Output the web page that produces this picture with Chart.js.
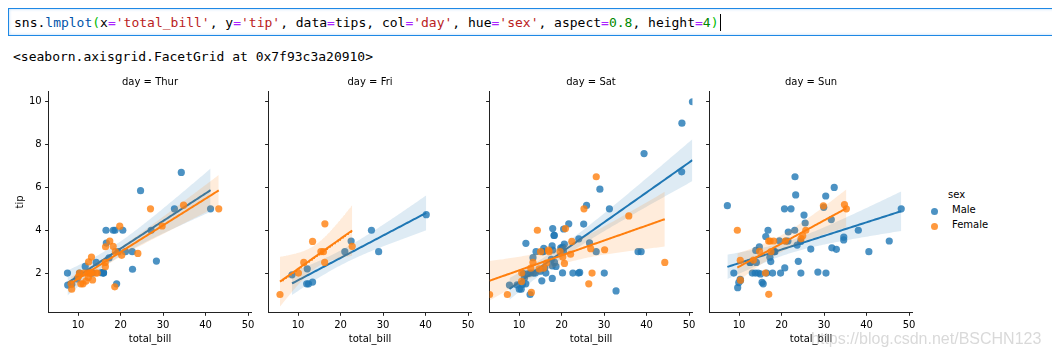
<!DOCTYPE html>
<html><head><meta charset="utf-8">
<script src="https://cdn.jsdelivr.net/npm/chart.js@4.4.0/dist/chart.umd.min.js"></script>
<style>
html,body{margin:0;padding:0;background:#fff;width:1052px;height:357px;overflow:hidden;position:relative;}
.cell{position:absolute;left:8px;top:8px;width:1060px;height:28px;border:1px solid #1e88e5;box-shadow:inset 0 0 3px rgba(30,136,229,.35);box-sizing:border-box;}
.code,.out{position:absolute;font:13px 'DejaVu Sans Mono',monospace;line-height:18px;white-space:pre;color:#000;}
.code{left:14px;top:14px;}
.out{left:13px;top:48px;}
.pr{color:#0055aa}.op{color:#aa22ff}.st{color:#ba2121}.nu{color:#008800}.br{color:#00bb00}
.cur{display:inline-block;width:0;height:17px;border-left:1px solid #000;vertical-align:-4px;margin-left:1px;}
canvas{position:absolute;top:70px;}
.lg{position:absolute;font:10px 'DejaVu Sans',sans-serif;line-height:12px;color:#000;white-space:pre;}
.mk{position:absolute;width:7px;height:7px;border-radius:50%;}
.wm{position:absolute;left:811px;top:331px;font:16px 'Liberation Sans',Arial,sans-serif;line-height:16px;color:rgba(170,170,170,0.45);white-space:pre;z-index:5;}
</style></head>
<body>
<div class="cell"></div>
<div class="code">sns.<span class="pr">lmplot</span><span class="br">(</span>x<span class="op">=</span><span class="st">'total_bill'</span>, y<span class="op">=</span><span class="st">'tip'</span>, data<span class="op">=</span>tips, col<span class="op">=</span><span class="st">'day'</span>, hue<span class="op">=</span><span class="st">'sex'</span>, aspect<span class="op">=</span><span class="nu">0.8</span>, height<span class="op">=</span><span class="nu">4</span><span class="br">)</span><span class="cur"></span></div>
<div class="out">&lt;seaborn.axisgrid.FacetGrid at 0x7f93c3a20910&gt;</div>
<canvas id="c0" width="262" height="287" style="left:0px"></canvas>
<canvas id="c1" width="262" height="287" style="left:220.43px"></canvas>
<canvas id="c2" width="262" height="287" style="left:440.86px"></canvas>
<canvas id="c3" width="262" height="287" style="left:661.29px"></canvas>
<div class="lg" style="left:948px;top:189px">sex</div>
<div class="mk" style="left:930.8px;top:207.8px;background:rgba(31,119,180,0.8)"></div>
<div class="lg" style="left:952px;top:204.3px">Male</div>
<div class="mk" style="left:930.8px;top:222.5px;background:rgba(255,127,14,0.8)"></div>
<div class="lg" style="left:952px;top:219px">Female</div>
<div class="wm">https://blog.csdn.net/BSCHN123</div>
<script>
// ---- data (tips dataset, by day and sex) ----
const days = ['Thur', 'Fri', 'Sat', 'Sun'];
const hues = ['Male', 'Female'];
const xTicks = [10, 20, 30, 40, 50];
const yTicks = [2, 4, 6, 8, 10];

const thurMaleBill = [27.2,22.76,17.29,19.44,16.66,32.68,15.98,13.03,18.28,24.71,21.16,11.69,14.26,15.95,8.52,22.82,19.08,16.0,34.3,41.19,9.78,7.51,28.44,15.48,16.58,7.56,10.34,13.51,18.71,20.53];
const thurMaleTip  = [4.0,3.0,2.71,3.0,3.4,5.0,2.03,2.0,4.0,5.85,3.0,2.31,2.5,2.0,1.48,2.18,1.5,2.0,6.7,5.0,1.73,2.0,2.56,2.02,4.0,1.44,2.0,2.0,4.0,4.0];
const thurFemaleBill = [10.07,34.83,10.65,12.43,24.08,13.42,12.48,29.8,14.52,11.38,20.27,11.17,12.26,18.26,8.51,10.33,14.15,13.16,17.47,27.05,16.43,8.35,18.64,11.87,19.81,43.11,13.0,12.74,13.0,16.4,16.47,18.78];
const thurFemaleTip  = [1.83,5.17,1.5,1.8,2.92,1.68,2.52,4.2,2.0,2.0,2.83,1.5,2.0,3.25,1.25,2.0,2.0,2.75,3.5,5.0,2.3,1.5,1.36,1.63,4.19,5.0,2.0,2.01,2.0,2.5,3.23,3.0];

const friMaleBill = [28.97,22.49,40.17,27.28,12.03,21.01,12.46,12.16,8.58,13.42];
const friMaleTip  = [3.0,3.5,4.73,4.0,1.5,3.0,1.5,2.2,1.92,1.58];
const friFemaleBill = [5.75,16.32,22.75,11.35,15.38,13.42,15.98,16.27,10.09];
const friFemaleTip  = [1.0,4.3,3.25,2.5,3.0,3.48,3.0,2.5,2.0];

const satMaleBill = [20.65,17.92,39.42,19.82,17.81,13.37,12.69,21.7,9.55,18.35,17.78,24.06,16.31,18.69,31.27,16.04,38.01,11.24,48.27,20.29,13.81,11.02,18.29,17.59,20.08,20.23,15.01,12.02,10.51,17.92,15.36,20.49,25.21,18.24,14.0,50.81,15.81,26.59,38.73,24.27,30.06,25.89,48.33,28.15,11.59,7.74,20.45,13.28,24.01,15.69,11.61,10.77,15.53,10.07,12.6,32.83,29.03,22.67,17.82];
const satMaleTip  = [3.35,4.08,7.58,3.18,2.34,2.0,2.0,4.3,1.45,2.5,3.27,3.6,2.0,2.31,5.0,2.24,3.0,1.76,6.73,3.21,2.0,1.98,3.76,2.64,3.15,2.01,2.09,1.97,1.25,3.08,1.64,4.06,4.29,3.76,3.0,10.0,3.16,3.41,3.0,2.03,2.0,5.16,9.0,3.0,1.5,1.44,3.0,2.72,2.0,3.0,3.39,1.47,3.0,1.25,1.0,1.17,5.92,2.0,1.75];
const satFemaleBill = [20.29,15.77,19.65,15.06,20.69,16.93,26.41,16.45,3.07,17.07,26.86,25.28,14.73,44.3,22.42,20.92,14.31,7.25,10.59,10.63,12.76,13.27,28.17,12.9,30.14,22.12,35.83,27.18];
const satFemaleTip  = [2.75,2.23,3.0,3.0,2.45,3.07,1.5,2.47,1.0,3.0,3.14,5.0,2.2,2.5,3.48,4.08,4.0,1.0,1.61,2.0,2.23,2.5,6.5,1.1,3.09,2.88,4.67,2.0];

const sunMaleBill = [10.34,21.01,23.68,25.29,8.77,26.88,15.04,14.78,10.27,15.42,18.43,21.58,16.29,17.46,13.94,9.68,30.4,18.29,22.23,32.4,28.55,18.04,12.54,9.94,25.56,19.49,38.07,23.95,29.93,14.07,13.13,17.26,24.55,19.77,48.17,16.49,21.5,12.66,13.81,24.52,20.76,31.71,7.25,31.85,16.82,32.9,17.89,14.48,34.63,34.65,23.33,45.35,23.17,40.55,20.69,30.46,23.1,15.69];
const sunMaleTip  = [1.66,3.5,3.31,4.71,2.0,3.12,1.96,3.23,1.71,1.57,3.0,3.92,3.71,2.54,3.06,1.32,5.6,3.0,5.0,6.0,2.05,3.0,2.5,1.56,4.34,3.51,4.0,2.55,5.07,2.5,2.0,2.74,2.0,2.0,5.0,2.0,3.5,2.5,2.0,3.48,2.24,4.5,5.15,3.18,4.0,3.11,2.0,2.0,3.55,3.68,5.65,3.5,6.5,3.0,5.0,2.0,4.0,1.5];
const sunFemaleBill = [16.99,24.59,35.26,14.83,10.33,16.97,10.29,34.81,25.71,17.31,29.85,25.0,13.39,16.21,17.51,9.6,20.9,18.15];
const sunFemaleTip  = [1.01,3.61,5.0,3.02,1.67,3.5,2.6,5.2,4.0,3.5,5.14,3.75,2.61,2.0,3.0,4.0,3.5,3.5];

const panels = [
  {day: 'Thur', Male: [thurMaleBill, thurMaleTip], Female: [thurFemaleBill, thurFemaleTip]},
  {day: 'Fri',  Male: [friMaleBill, friMaleTip],   Female: [friFemaleBill, friFemaleTip]},
  {day: 'Sat',  Male: [satMaleBill, satMaleTip],   Female: [satFemaleBill, satFemaleTip]},
  {day: 'Sun',  Male: [sunMaleBill, sunMaleTip],   Female: [sunFemaleBill, sunFemaleTip]},
];

// ---- styling ----
const hueRGB = {Male: '31,119,180', Female: '255,127,14'};
const X_MIN = 3.07, X_MAX = 50.81, Y_MIN = 0.17, Y_MAX = 10.47;
const AREA_LEFT = 48.6, AREA_W = 202.85, CANVAS_W = 262, CANVAS_H = 287;
const AREA_TOP = 21.7, AREA_BOTTOM = 242.3;

// ---- linear regression with 95% CI of the mean (as seaborn regplot) ----
function tq(df){const z=1.959964;return z+(z**3+z)/(4*df)+(5*z**5+16*z**3+3*z)/(96*df*df)+(3*z**7+19*z**5+17*z**3-15*z)/(384*df**3);}
function regress(xs, ys){
  const n = xs.length;
  const mx = xs.reduce((a,b)=>a+b,0)/n, my = ys.reduce((a,b)=>a+b,0)/n;
  let sxx=0, sxy=0;
  for(let i=0;i<n;i++){sxx+=(xs[i]-mx)**2; sxy+=(xs[i]-mx)*(ys[i]-my);}
  const b = sxy/sxx, a = my - b*mx;
  let sse=0; for(let i=0;i<n;i++){sse+=(ys[i]-a-b*xs[i])**2;}
  const s = Math.sqrt(sse/(n-2)), t = tq(n-2);
  const x0 = Math.min(...xs), x1 = Math.max(...xs);
  const line=[], lo=[], hi=[];
  for(let k=0;k<=100;k++){
    const x = x0 + (x1-x0)*k/100, yh = a + b*x;
    const se = s*Math.sqrt(1/n + (x-mx)**2/sxx);
    line.push({x, y: yh}); lo.push({x, y: yh - t*se}); hi.push({x, y: yh + t*se});
  }
  return {line, lo, hi};
}

Chart.defaults.font.family = "'DejaVu Sans', sans-serif";
Chart.defaults.font.size = 10;
Chart.defaults.color = '#000';

panels.forEach((p, pi) => {
  const datasets = [];
  hues.forEach((h, hi) => {
    const [xs, ys] = p[h];
    const c = hueRGB[h];
    const base = hi === 0 ? 60 : 30;
    const r = regress(xs, ys);
    datasets.push({label: h, data: xs.map((x,i)=>({x, y: ys[i]})), showLine: false, pointRadius: 3.6, pointHoverRadius: 3.6,
      pointBorderWidth: 0, pointBackgroundColor: `rgba(${c},0.8)`, pointBorderColor: `rgba(${c},0)`, order: base, clip: 0});
    const loIdx = datasets.length;
    datasets.push({label: h + ' ci lo', data: r.lo, pointRadius: 0, borderWidth: 0, borderColor: 'rgba(0,0,0,0)', fill: false, order: base - 8, clip: 0});
    datasets.push({label: h + ' ci hi', data: r.hi, pointRadius: 0, borderWidth: 0, borderColor: 'rgba(0,0,0,0)', fill: loIdx, backgroundColor: `rgba(${c},0.15)`, order: base - 9, clip: 0});
    datasets.push({label: h + ' fit', data: r.line, pointRadius: 0, borderWidth: 2, borderColor: `rgb(${c})`, fill: false, order: base - 20, clip: 0});
  });

  new Chart(document.getElementById('c' + pi), {
    type: 'line',
    data: {datasets},
    options: {
      responsive: false, animation: false, devicePixelRatio: 1,
      events: [],
      layout: {autoPadding: false, padding: {left: 0, top: 0, bottom: 0, right: CANVAS_W - AREA_LEFT - AREA_W}},
      elements: {line: {tension: 0}},
      plugins: {
        legend: {display: false}, tooltip: {enabled: false},
        filler: {propagate: false},
        title: {display: true, text: 'day = ' + p.day, fullSize: false, color: '#000',
          font: {size: 10, weight: 'normal', lineHeight: 1.2}, padding: {top: AREA_TOP - 12 - 3, bottom: 3}}
      },
      scales: {
        x: {
          type: 'linear', position: 'bottom', min: X_MIN, max: X_MAX,
          afterBuildTicks: s => { s.ticks = xTicks.map(v => ({value: v})); },
          afterFit: s => { s.height = CANVAS_H - AREA_BOTTOM; },
          ticks: {padding: 3.3, maxRotation: 0, autoSkip: false, color: '#000', callback: v => String(v)},
          grid: {drawOnChartArea: false, drawTicks: true, tickLength: 3.5, color: '#222', lineWidth: 1},
          border: {display: true, color: '#222', width: 1},
          title: {display: true, text: 'total_bill', color: '#000', font: {size: 10, lineHeight: 1.2}, padding: {top: 12, bottom: 12}}
        },
        y: {
          type: 'linear', position: 'left', min: Y_MIN, max: Y_MAX,
          afterBuildTicks: s => { s.ticks = yTicks.map(v => ({value: v})); },
          afterFit: s => { s.width = AREA_LEFT; },
          ticks: {display: pi === 0, padding: 3.5, color: '#000', callback: v => String(v)},
          grid: {drawOnChartArea: false, drawTicks: true, tickLength: 3.5, color: '#222', lineWidth: 1},
          border: {display: true, color: '#222', width: 1},
          title: {display: pi === 0, text: 'tip', color: '#000', font: {size: 10, lineHeight: 1.2}, padding: {top: 14, bottom: 14}}
        }
      }
    }
  });
});
</script>
</body></html>
